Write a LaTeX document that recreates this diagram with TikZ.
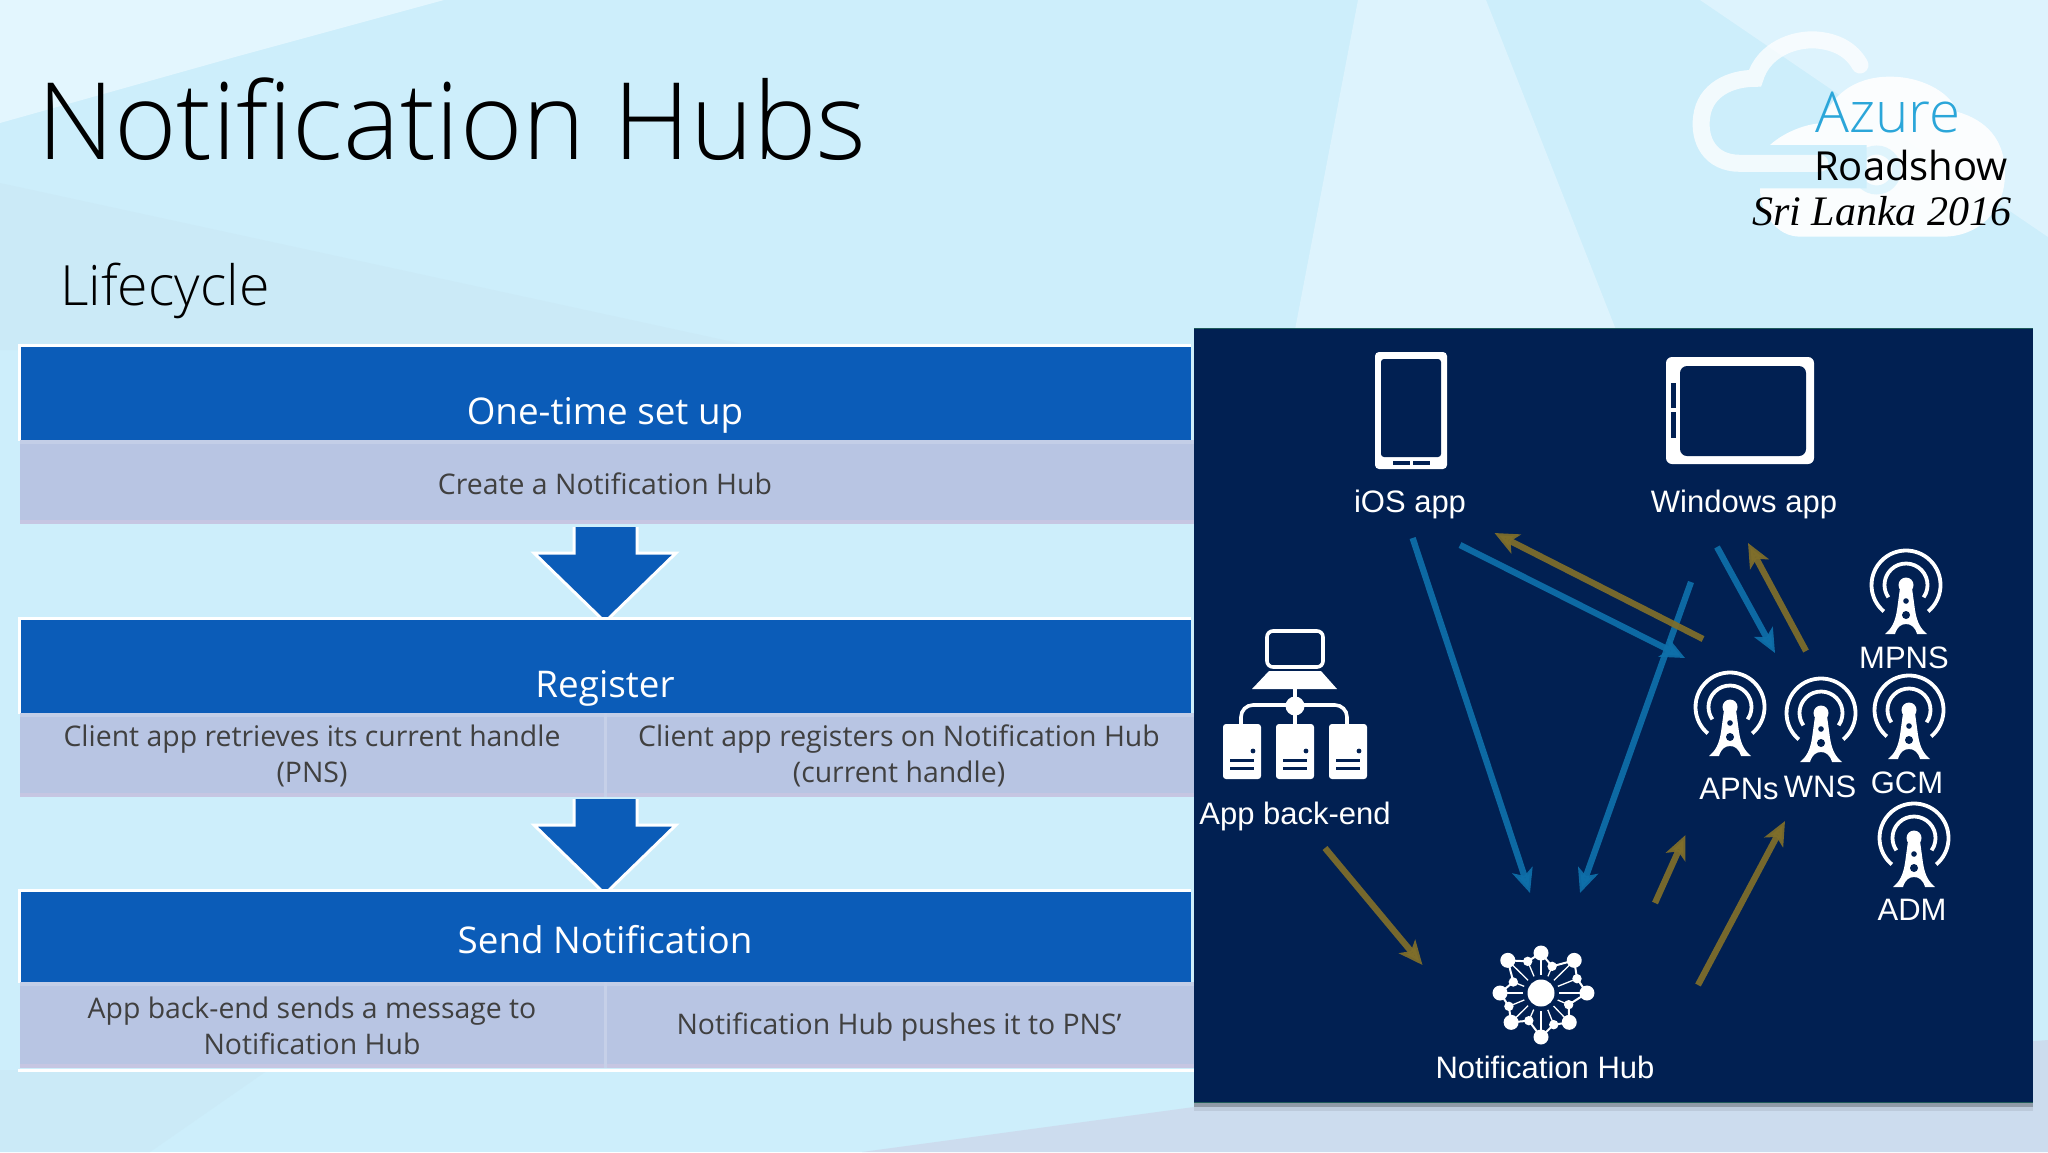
\documentclass[tikz,border=0pt]{standalone}
\usepackage{fontspec}
\setmainfont{Open Sans}
\newfontfamily\lightf{Open Sans Light}
\newfontfamily\armf{Liberation Sans}
\newfontfamily\handf{Liberation Serif}
\usetikzlibrary{arrows.meta,calc}
\definecolor{bgbase}{HTML}{CDEEFB}
\definecolor{bglight}{HTML}{DDF3FD}
\definecolor{bgcorner}{HTML}{E3F6FE}
\definecolor{bgdim}{HTML}{CBEAF7}
\definecolor{bgbottom}{HTML}{CCDCEE}
\definecolor{hdr}{HTML}{0B5CB8}
\definecolor{band}{HTML}{B8C5E3}
\definecolor{bandedge}{HTML}{C6C6E2}
\definecolor{divline}{HTML}{C6D0E8}
\definecolor{panel}{HTML}{012052}
\definecolor{panelrim}{HTML}{1F5A5A}
\definecolor{bluearrow}{HTML}{0F70AA}
\definecolor{olivearrow}{HTML}{806F2A}
\definecolor{azuretxt}{HTML}{2BA6D9}
\definecolor{dgrey}{HTML}{404040}
\tikzset{
  hdrbox/.style={fill=hdr},
  bandbox/.style={fill=band},
  hdrtext/.style={text=white,font=\fontsize{36.8}{42}\selectfont,inner sep=0pt,anchor=center},
  bandtext/.style={text=dgrey,font=\fontsize{28.4}{36}\selectfont,inner sep=0pt,align=center,anchor=center},
  applabel/.style={text=white,font=\armf\fontsize{31}{36}\selectfont,inner sep=0pt,anchor=center},
  bluelink/.style={draw=bluearrow,opacity=.92,line width=6.3pt,-{Stealth[length=24pt,width=21pt,inset=6pt]}},
  olivelink/.style={draw=olivearrow,opacity=.92,line width=6.3pt,-{Stealth[length=24pt,width=21pt,inset=6pt]}},
  blockarrow/.style={fill=hdr,draw=white,line width=3pt,miter limit=10},
  pics/tower/.style={code={
    \begin{scope}[x=1pt,y=1pt]
      \draw[white,line width=3.8pt] (-50:34.5pt) arc[start angle=-50,end angle=230,radius=34.5pt];
      \draw[white,line width=3.8pt] (-35:21.5pt) arc[start angle=-35,end angle=215,radius=21.5pt];
      \fill[white] (0,0) circle[radius=7.5pt];
      \fill[white] (-6,-3) -- (6,-3) -- (9,-25) .. controls (11,-38) and (15,-44) .. (21,-49) -- (11,-49) .. controls (9,-42) and (5,-39) .. (0,-39) .. controls (-5,-39) and (-9,-42) .. (-11,-49) -- (-21,-49) .. controls (-15,-44) and (-11,-38) .. (-9,-25) -- cycle;
      \fill[panel] (0,-16) circle[radius=2.8pt];
      \fill[panel] (0,-30) circle[radius=4pt];
    \end{scope}
  }},
  pics/serverbox/.style={code={
    \fill[white,rounded corners=3pt] (0,0) rectangle (38,55);
    \fill[panel] (30,27) circle[radius=2.4pt];
    \fill[panel] (7,35) rectangle (31,37.6);
    \fill[panel] (7,43) rectangle (31,45.6);
  }},
}
\begin{document}
\begin{tikzpicture}[x=1pt,y=-1pt]
\useasboundingbox (0,0) rectangle (2048,1152);
% background facets
\fill[bgbase] (0,0) rectangle (2048,1152);
\fill[bgcorner] (0,0) -- (444,0) -- (235,57) -- (0,123) -- cycle;
\fill[bgdim] (0,183) -- (770,350) -- (0,350) -- cycle;
\fill[bglight] (1358,0) -- (1486,0) -- (1620,340) -- (1293,340) -- cycle;
\fill[bglight] (1700,0) -- (2048,0) -- (2048,237) -- cycle;
\fill[bgdim] (0,1070) -- (268,1070) -- (150,1152) -- (0,1152) -- cycle;
\fill[bgbottom] (862,1152) -- (1194,1107) -- (2048,1040) -- (2048,1152) -- cycle;
% title
\node[anchor=base west,inner sep=0pt,text=black,font=\lightf\fontsize{106.8}{118}\selectfont] (title) at (37,159) {Notification Hubs};
\node[anchor=base west,inner sep=0pt,text=black,font=\lightf\fontsize{55.5}{62}\selectfont] (subtitle) at (60,305) {Lifecycle};
% logo
\begin{scope}[shift={(1660,0)},x=.3333pt,y=-.3333pt]
  \draw[white,opacity=.75,line width=17pt,line cap=round] (480,490) -- (240,490) .. controls (150,490) and (115,420) .. (125,350) .. controls (135,270) and (210,235) .. (285,235) .. controls (310,150) and (400,115) .. (470,120) .. controls (530,125) and (575,150) .. (600,195);
  \fill[white,opacity=.9] (330,435) .. controls (380,390) and (450,370) .. (485,370) .. controls (510,290) and (580,230) .. (690,230) .. controls (800,230) and (880,290) .. (890,335) .. controls (980,360) and (1035,420) .. (1035,520) .. controls (1035,640) and (950,710) .. (850,710) -- (420,710) .. controls (350,710) and (300,640) .. (300,565) -- (620,565) -- (620,435) -- cycle;
  \draw[bgbase,opacity=.6,line width=9pt] (650,510) circle[radius=60];
\end{scope}
\node[anchor=base west,inner sep=0pt,text=azuretxt,font=\lightf\fontsize{56.5}{62}\selectfont] (azure) at (1815,132) {Azure};
\node[anchor=base west,inner sep=0pt,text=black,font=\fontsize{40}{48}\selectfont] (roadshow) at (1814,180) {Roadshow};
\node[anchor=base west,inner sep=0pt,text=black,font=\handf\itshape\fontsize{42}{48}\selectfont] (srilanka) at (1752,225) {Sri Lanka 2016};
% lifecycle step 1
\fill[white] (18,344) rectangle (1191,441);
\fill[hdrbox] (21,347) rectangle (1191,440);
\fill[bandbox] (20,440) rectangle (1194,522);
\fill[band!85!white] (20,440) rectangle (1194,444);
\fill[bandedge] (20,520) rectangle (1194,524);
\node[hdrtext] (step1) at (605,415) {One-time set up};
\node[bandtext] (step1a) at (605,484) {Create a Notification Hub};
\path[blockarrow] (574,527) -- (574,553) -- (534,553) -- (605,622) -- (676,553) -- (637,553) -- (637,527);
% lifecycle step 2
\fill[white] (18,617) rectangle (1191,714);
\fill[hdrbox] (21,620) rectangle (1191,713);
\fill[bandbox] (20,713) rectangle (1194,795);
\fill[band!85!white] (20,713) rectangle (1194,717);
\fill[bandedge] (20,793) rectangle (1194,797);
\fill[divline] (604,713) rectangle (607,797);
\node[hdrtext] (step2) at (605,688) {Register};
\node[bandtext] (step2a) at (312,756) {Client app retrieves its current handle\\(PNS)};
\node[bandtext] (step2b) at (899,756) {Client app registers on Notification Hub\\(current handle)};
\path[blockarrow] (574,799) -- (574,825) -- (534,825) -- (605,894) -- (676,825) -- (637,825) -- (637,799);
% lifecycle step 3
\fill[white] (18,889) rectangle (1191,983);
\fill[hdrbox] (21,892) rectangle (1191,982);
\fill[bandbox] (20,982) rectangle (1194,1066);
\fill[band!85!white] (20,982) rectangle (1194,986);
\fill[bandedge] (20,1064) rectangle (1194,1068);
\fill[divline] (604,982) rectangle (607,1068);
\fill[white] (18,1069) rectangle (1194,1072);
\node[hdrtext] (step3) at (605,940) {Send Notification};
\node[bandtext] (step3a) at (312,1026) {App back-end sends a message to\\Notification Hub};
\node[bandtext] (step3b) at (899,1027) {Notification Hub pushes it to PNS’};
% panel
\fill[black!30!bgbottom] (1194,1102) rectangle (2033,1107);
\fill[black!8!bgbottom] (1194,1107) rectangle (2033,1111);
\fill[panel] (1194,328) rectangle (2033,1103);
\draw[panelrim,line width=1pt] (1194,328.5) -- (2033,328.5);
\draw[panelrim,line width=1pt] (1194,1102.5) -- (2033,1102.5);
% phone
\fill[white,rounded corners=4pt] (1375,352) rectangle (1447,469);
\fill[panel,rounded corners=3pt] (1381,359) rectangle (1441,457);
\fill[panel] (1393,461) rectangle (1410,465);
\fill[panel] (1413,461) rectangle (1430,465);
% tablet
\fill[white,rounded corners=6pt] (1666,357) rectangle (1814,464);
\fill[panel,rounded corners=7pt] (1680,366) rectangle (1806,456);
\fill[panel] (1671,383) rectangle (1676,408);
\fill[panel] (1671,412) rectangle (1676,438);
% back-end icon
\draw[white,line width=3.6pt,rounded corners=6pt] (1267,631) rectangle (1323,667);
\fill[white] (1269,671) -- (1321,671) -- (1337,689) -- (1252,689) -- cycle;
\draw[white,line width=3.6pt] (1295,689) -- (1295,726);
\draw[white,line width=3.6pt,rounded corners=12pt] (1241,726) -- (1241,705) -- (1347,705) -- (1347,726);
\fill[white] (1295,706) circle[radius=9.5pt];
\pic at (1223,724) {serverbox};
\pic at (1276,724) {serverbox};
\pic at (1329,724) {serverbox};
% towers
\pic at (1906,585) {tower};
\pic at (1730,707) {tower};
\pic at (1821,713) {tower};
\pic at (1909,710) {tower};
\pic at (1914,838) {tower};
% hub
\begin{scope}[shift={(1541,993)},x=.5537pt,y=.3333pt]
  \foreach \px/\py in {23/-95,50/-35,65/43,20/80,-24/95,-50/33,-58/-40,-22/-83,0/-132,51/-88,83/0,60/98,0/120,-60/98,-74/0,-54/-88}
    \draw[white,line width=1.3pt] (0,0) -- (\px,\py);
  \draw[white,line width=2pt] (0,-132) -- (23,-95) -- (51,-88) -- (50,-35) -- (83,0) -- (65,43) -- (60,98) -- (20,80) -- (0,120) -- (-24,95) -- (-60,98) -- (-50,33) -- (-74,0) -- (-58,-40) -- (-54,-88) -- (-22,-83) -- cycle;
  \fill[panel] (0,0) circle[radius=18pt];
  \fill[white] (0,0) circle[radius=13.5pt];
  \foreach \px/\py in {0/-132,51/-88,83/0,60/98,0/120,-60/98,-74/0,-54/-88}
    \fill[white] (\px,\py) circle[radius=7.5pt];
  \foreach \px/\py in {23/-95,50/-35,65/43,20/80,-24/95,-50/33,-58/-40,-22/-83}
    \fill[white] (\px,\py) circle[radius=4.7pt];
\end{scope}
% labels
\node[applabel] (ios) at (1410,504) {iOS app};
\node[applabel] (win) at (1744,504) {Windows app};
\node[applabel] (backend) at (1295,816) {App back-end};
\node[applabel] (apns) at (1739,789) {APNs};
\node[applabel] (wns) at (1820,787) {WNS};
\node[applabel] (gcm) at (1907,783) {GCM};
\node[applabel] (mpns) at (1904,658) {MPNS};
\node[applabel] (adm) at (1912,910) {ADM};
\node[applabel] (hublabel) at (1545,1067) {Notification Hub};
% connector ends
\coordinate (a1) at (1412.6,538); \coordinate (a2) at (1530,893);
\coordinate (b1) at (1460,545);   \coordinate (b2) at (1685,658);
\coordinate (c1) at (1703,639);   \coordinate (c2) at (1494.5,533);
\coordinate (d1) at (1691,582);   \coordinate (d2) at (1580,893);
\coordinate (e1) at (1717,547);   \coordinate (e2) at (1775,653);
\coordinate (f1) at (1806,651);   \coordinate (f2) at (1748,543);
\coordinate (g1) at (1325,848);   \coordinate (g2) at (1422.5,965);
\coordinate (h1) at (1655,903);   \coordinate (h2) at (1685.5,835);
\coordinate (i1) at (1698,985);   \coordinate (i2) at (1785,821);
\draw[bluelink] (a1) -- (a2);
\draw[bluelink] (d1) -- (d2);
\draw[bluelink] (b1) -- (b2);
\draw[olivelink] (c1) -- (c2);
\draw[bluelink] (e1) -- (e2);
\draw[olivelink] (f1) -- (f2);
\draw[olivelink] (g1) -- (g2);
\draw[olivelink] (h1) -- (h2);
\draw[olivelink] (i1) -- (i2);
\end{tikzpicture}
\end{document}
